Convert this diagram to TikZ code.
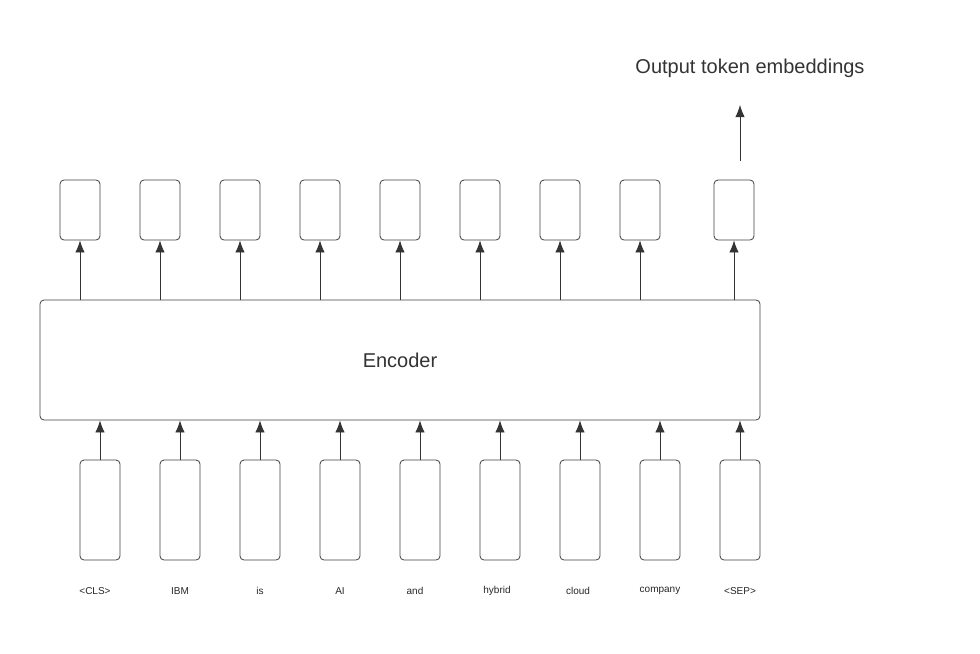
\documentclass[tikz,border=0pt]{standalone}
\usepackage{fontspec}
\setmainfont{Liberation Sans}
\usetikzlibrary{arrows.meta}
\begin{document}
\begin{tikzpicture}[x=0.75pt,y=-0.75pt,
  tok/.style={draw=black!75,line width=0.6pt,rounded corners=3pt,minimum width=30pt,inner sep=0pt},
  arr/.style={draw=black!80,line width=0.6pt,-{Latex[length=9pt,width=7pt]}},
  lbl/.style={font=\fontsize{7.5}{9}\selectfont,text=black!85}]
\useasboundingbox (0,0) rectangle (980,653);
\node[tok,minimum width=540pt,minimum height=90pt,font=\fontsize{15}{18}\selectfont,text=black!80] (enc) at (400,360) {Encoder};
\foreach \i/\x/\lx/\t/\ox in {1/100/95/<CLS>/80,2/180/180/IBM/160,3/260/260/is/240,4/340/340/AI/320,5/420/415/and/400,6/500/497/hybrid/480,7/580/578/cloud/560,8/660/660/company/640,9/740/740/<SEP>/734}{
  \node[tok,minimum height=75pt] (in\i) at (\x,510) {};
  \node[lbl] (l\i) at (\lx,591) {\t};
  \node[tok,minimum height=45pt] (out\i) at (\ox,210) {};
  \draw[arr] (in\i.north) -- (in\i.north |- enc.south);
  \draw[arr] (out\i.south |- enc.north) -- (out\i.south);
}
\coordinate (o1) at (740,161);
\coordinate (o2) at (740,105);
\draw[arr] (o1) -- (o2);
\node[font=\fontsize{15}{18}\selectfont,text=black!80] (otxt) at (750,68) {Output token embeddings};
\end{tikzpicture}
\end{document}
